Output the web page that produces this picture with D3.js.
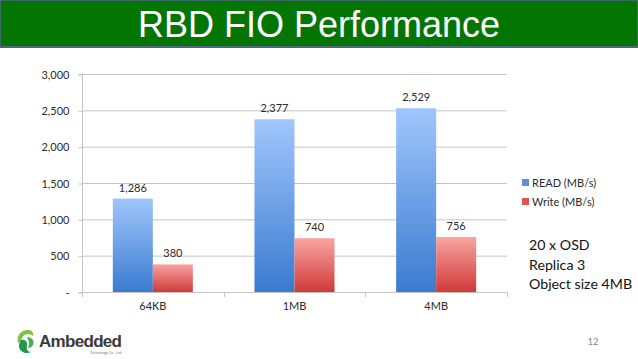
<!DOCTYPE html>
<html>
<head>
<meta charset="utf-8">
<script src="https://cdn.jsdelivr.net/npm/d3@7"></script>
<style>
  body { margin: 0; background: #fff; }
  svg { display: block; }
</style>
</head>
<body>
<div id="chart"></div>
<script>
// Slide size
const width = 638,
      height = 359

// Data
const categories = ['64KB', '1MB', '4MB']
const seriesNames = ['READ (MB/s)', 'Write (MB/s)']
const readValues = [1286, 2377, 2529]
const writeValues = [380, 740, 756]
const yTicks = [0, 500, 1000, 1500, 2000, 2500, 3000]
const notes = ['20 x OSD', 'Replica 3', 'Object size 4MB']

const plot = { left: 82, right: 507, top: 74, bottom: 292 }

let svg = d3.select('#chart')
  .append('svg')
  .attr('width', width)
  .attr('height', height)

// gradients for the bars
let defs = svg.append('defs')
let grads = [
  { id: 'gRead', top: '#a0c6fc', bottom: '#3a7bd0' },
  { id: 'gWrite', top: '#f8a4a2', bottom: '#d03a38' }
]
grads.forEach(g => {
  let lg = defs.append('linearGradient')
    .attr('id', g.id)
    .attr('x1', 0).attr('y1', 0).attr('x2', 0).attr('y2', 1)
  lg.append('stop').attr('offset', '0%').attr('stop-color', g.top)
  lg.append('stop').attr('offset', '100%').attr('stop-color', g.bottom)
})

// title bar
svg.append('rect')
  .attr('x', 0).attr('y', 0)
  .attr('width', width).attr('height', 47)
  .attr('fill', '#037503')
svg.append('rect')
  .attr('x', 0).attr('y', 46)
  .attr('width', width).attr('height', 2)
  .attr('fill', '#4e6e86')
svg.append('rect')
  .attr('x', 0.5).attr('y', 0.5)
  .attr('width', width - 1).attr('height', 47)
  .attr('fill', 'none')
  .attr('stroke', '#3f6a6a')
svg.append('text')
  .attr('x', 319).attr('y', 37)
  .attr('text-anchor', 'middle')
  .attr('font-family', 'Liberation Sans, Arial, sans-serif')
  .attr('font-size', 36)
  .attr('fill', '#fff')
  .text('RBD FIO Performance')

// scales
let yScale = d3.scaleLinear()
  .domain([0, 3000])
  .range([plot.bottom, plot.top])

let x0 = d3.scaleBand()
  .domain(categories)
  .range([plot.left, plot.right])
  .padding(0)

let x1 = d3.scaleBand()
  .domain(seriesNames)
  .range([0, x0.bandwidth()])
  .paddingInner(0)
  .paddingOuter(0.77)

const fmt = d3.format(',')
const font = 'Lato, Carlito, Calibri, sans-serif'
const textColor = '#2b2b2b'
const gridColor = '#c4c4c4'

// gridlines
svg.append('g')
  .selectAll('line')
  .data(yTicks.slice(1))
  .enter()
  .append('line')
  .attr('x1', plot.left).attr('x2', plot.right)
  .attr('y1', d => yScale(d) + 0.5).attr('y2', d => yScale(d) + 0.5)
  .attr('stroke', gridColor)

// y axis
let yAxis = d3.axisLeft(yScale)
  .tickValues(yTicks)
  .tickSize(4)
  .tickPadding(9)
  .tickFormat(d => d === 0 ? '-' : fmt(d))

let gy = svg.append('g')
  .attr('transform', `translate(${plot.left + 0.5},0.5)`)
  .call(yAxis)
gy.select('.domain').attr('stroke', gridColor).attr('d', `M-4,${plot.top}H0V${plot.bottom}H-4`)
gy.selectAll('.tick line').attr('stroke', gridColor)
gy.selectAll('.tick text')
  .attr('font-family', font).attr('font-size', 11)
  .attr('fill', textColor)

// x axis
let xAxis = d3.axisBottom(x0)
  .tickSize(0)
  .tickPadding(10)

let gx = svg.append('g')
  .attr('transform', `translate(0,${plot.bottom + 0.5})`)
  .call(xAxis)
gx.select('.domain').attr('stroke', gridColor)
  .attr('d', `M${plot.left},0H${plot.right}`)
gx.selectAll('.tick text')
  .attr('font-family', font).attr('font-size', 11)
  .attr('fill', textColor)

// category separators on x axis
let edges = categories.map(c => x0(c)).concat([plot.right])
svg.append('g')
  .selectAll('line')
  .data(edges)
  .enter()
  .append('line')
  .attr('x1', d => Math.round(d) + 0.5).attr('x2', d => Math.round(d) + 0.5)
  .attr('y1', plot.bottom).attr('y2', plot.bottom + 5)
  .attr('stroke', gridColor)

// bars
let rows = categories.map((c, i) => ({
  cat: c,
  vals: [
    { key: seriesNames[0], v: readValues[i], fill: 'url(#gRead)' },
    { key: seriesNames[1], v: writeValues[i], fill: 'url(#gWrite)' }
  ]
}))

let groups = svg.append('g')
  .selectAll('g')
  .data(rows)
  .enter()
  .append('g')
  .attr('transform', d => `translate(${x0(d.cat)},0)`)

groups.selectAll('rect')
  .data(d => d.vals)
  .enter()
  .append('rect')
  .attr('x', d => x1(d.key))
  .attr('y', d => yScale(d.v))
  .attr('width', x1.bandwidth())
  .attr('height', d => plot.bottom - yScale(d.v))
  .attr('fill', d => d.fill)

groups.selectAll('text')
  .data(d => d.vals)
  .enter()
  .append('text')
  .attr('x', d => x1(d.key) + x1.bandwidth() / 2)
  .attr('y', d => yScale(d.v) - 7)
  .attr('text-anchor', 'middle')
  .attr('font-family', font).attr('font-size', 11)
  .attr('fill', textColor)
  .text(d => fmt(d.v))

// legend
let legend = svg.append('g')
  .selectAll('g')
  .data([{ name: seriesNames[0], c: '#5b8fd8' }, { name: seriesNames[1], c: '#dd5555' }])
  .enter()
  .append('g')
  .attr('transform', (d, i) => `translate(522,${179 + i * 19})`)
legend.append('rect')
  .attr('width', 7).attr('height', 7)
  .attr('fill', d => d.c)
legend.append('text')
  .attr('x', 10).attr('y', 7.5)
  .attr('font-family', font).attr('font-size', 11)
  .attr('fill', textColor)
  .text(d => d.name)

// notes
svg.append('g')
  .selectAll('text')
  .data(notes)
  .enter()
  .append('text')
  .attr('x', 529)
  .attr('y', (d, i) => 250 + i * 19.5)
  .attr('font-family', font).attr('font-size', 14.2)
  .attr('fill', '#111')
  .text(d => d)

// logo
let logo = svg.append('g').attr('transform', 'translate(16,329)')
logo.append('path')
  .attr('d', 'M2,14 C0,6 6,0 13,1 C17,2 18,5 17,7 C14,4 8,4 6,9 C5,11 4,13 2,14 Z')
  .attr('fill', '#7cc243')
logo.append('path')
  .attr('d', 'M5,11 C9,10 12,13 11,17 C10,20 12,23 15,23 C9,26 3,22 3,17 C3,14 4,12 5,11 Z')
  .attr('fill', '#1f9a4c')
logo.append('path')
  .attr('d', 'M11,8 C16,8 19,12 17,16 C16,18 14,19 12,19 C14,16 13,12 11,8 Z')
  .attr('fill', '#46b04a')
logo.append('text')
  .attr('x', 23).attr('y', 18)
  .attr('font-family', 'Liberation Sans, Arial, sans-serif')
  .attr('font-weight', 'bold')
  .attr('font-size', 17)
  .attr('textLength', 83)
  .attr('fill', '#3a3a3a')
  .text('Ambedded')
logo.append('text')
  .attr('x', 106).attr('y', 25)
  .attr('text-anchor', 'end')
  .attr('font-family', 'Liberation Sans, Arial, sans-serif')
  .attr('font-size', 3.5)
  .attr('fill', '#777')
  .text('Technology Co., Ltd.')

// page number
svg.append('text')
  .attr('x', 593).attr('y', 345)
  .attr('text-anchor', 'middle')
  .attr('font-family', font).attr('font-size', 9.5)
  .attr('fill', '#888')
  .text('12')
</script>
</body>
</html>
